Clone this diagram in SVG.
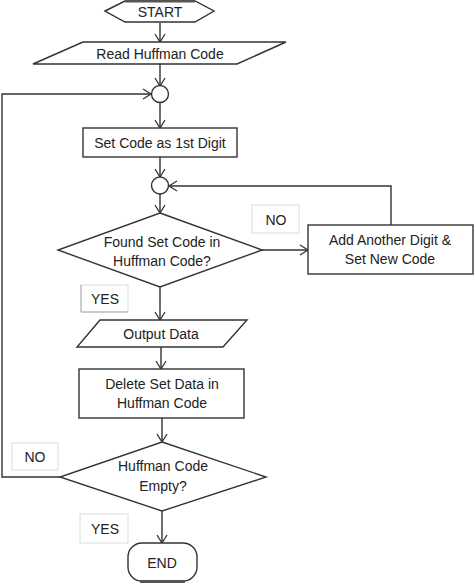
<svg xmlns="http://www.w3.org/2000/svg" width="474" height="583" viewBox="0 0 474 583">
<defs>
<marker id="arr" markerWidth="12" markerHeight="12" refX="10" refY="6" orient="auto" markerUnits="userSpaceOnUse">
<path d="M2,1 L10,6 L2,11" fill="none" stroke="#333" stroke-width="1.3"/>
</marker>
<style>
.s{fill:#fff;stroke:#333;stroke-width:1.4}
.c{fill:none;stroke:#333;stroke-width:1.4}
.lb{fill:#fff;stroke:#dcdcdc;stroke-width:1}
.le{fill:none;stroke:#aaa;stroke-width:1}
text{font-family:"Liberation Sans",Arial,sans-serif;font-size:14px;fill:#222;text-anchor:middle;dominant-baseline:central}
</style>
</defs>
<rect width="474" height="583" fill="#fff"/>
<g id="connectors">
<line class="c" x1="160" y1="23" x2="160" y2="42" marker-end="url(#arr)"/>
<line class="c" x1="160" y1="64" x2="160" y2="86" marker-end="url(#arr)"/>
<line class="c" x1="160" y1="103" x2="160" y2="128" marker-end="url(#arr)"/>
<line class="c" x1="160" y1="157" x2="160" y2="177" marker-end="url(#arr)"/>
<line class="c" x1="160" y1="194" x2="160" y2="213" marker-end="url(#arr)"/>
<line class="c" x1="262" y1="250" x2="308" y2="250" marker-end="url(#arr)"/>
<polyline class="c" points="391,225 391,186 169,186" marker-end="url(#arr)"/>
<line class="c" x1="160" y1="287" x2="160" y2="320" marker-end="url(#arr)"/>
<line class="c" x1="161" y1="347" x2="161" y2="369" marker-end="url(#arr)"/>
<line class="c" x1="162" y1="418" x2="162" y2="442" marker-end="url(#arr)"/>
<polyline class="c" points="60,477 2,477 2,94 151,94" marker-end="url(#arr)" stroke-width="2"/>
<line class="c" x1="162" y1="511" x2="162" y2="543" marker-end="url(#arr)"/>
</g>
<g id="start">
<polygon class="s" points="105,11 125,1 195,1 214,11 195,22 125,22"/>
<line x1="125" y1="1" x2="195" y2="1" stroke="#555" stroke-width="3"/>
<text x="160" y="12">START</text>
</g>
<g id="read">
<polygon class="s" points="83,42 286,42 237,64 33,64"/>
<text x="160" y="54">Read Huffman Code</text>
</g>
<g id="join1">
<circle class="s" cx="160" cy="94" r="8.5"/>
</g>
<g id="setcode">
<rect class="s" x="83" y="128" width="154" height="29"/>
<text x="160" y="143">Set Code as 1st Digit</text>
</g>
<g id="join2">
<circle class="s" cx="160" cy="185.5" r="8.5"/>
</g>
<g id="found">
<polygon class="s" points="160,213 262,250 160,287 58,250"/>
<text x="162" y="242">Found Set Code in</text>
<text x="162" y="261">Huffman Code?</text>
</g>
<g id="adddigit">
<rect class="s" x="308" y="225" width="165" height="49"/>
<text x="390" y="240">Add Another Digit &amp;</text>
<text x="390" y="259">Set New Code</text>
</g>
<g id="label-no1">
<rect class="lb" x="252" y="205" width="47" height="28"/>
<text x="276" y="220">NO</text>
</g>
<g id="label-yes1">
<rect class="lb" x="81" y="285" width="47" height="27"/>
<polyline class="le" points="81,285 81,312 128,312"/>
<text x="105" y="299">YES</text>
</g>
<g id="output">
<polygon class="s" points="100,320 247,320 223,347 77,347"/>
<text x="161" y="334">Output Data</text>
</g>
<g id="delete">
<rect class="s" x="79" y="369" width="165" height="49"/>
<text x="162" y="384">Delete Set Data in</text>
<text x="162" y="403">Huffman Code</text>
</g>
<g id="empty">
<polygon class="s" points="162,442 266,477 162,511 60,477"/>
<text x="163" y="466">Huffman Code</text>
<text x="163" y="486">Empty?</text>
</g>
<g id="label-no2">
<rect class="lb" x="12" y="443" width="46" height="27"/>
<text x="35" y="457">NO</text>
</g>
<g id="label-yes2">
<rect class="lb" x="80" y="514" width="48" height="29"/>
<text x="105" y="529">YES</text>
</g>
<g id="end">
<rect class="s" x="128" y="543" width="69" height="38" rx="14" ry="14"/>
<line x1="140" y1="581.5" x2="185" y2="581.5" stroke="#555" stroke-width="3"/>
<text x="162" y="563">END</text>
</g>
</svg>
